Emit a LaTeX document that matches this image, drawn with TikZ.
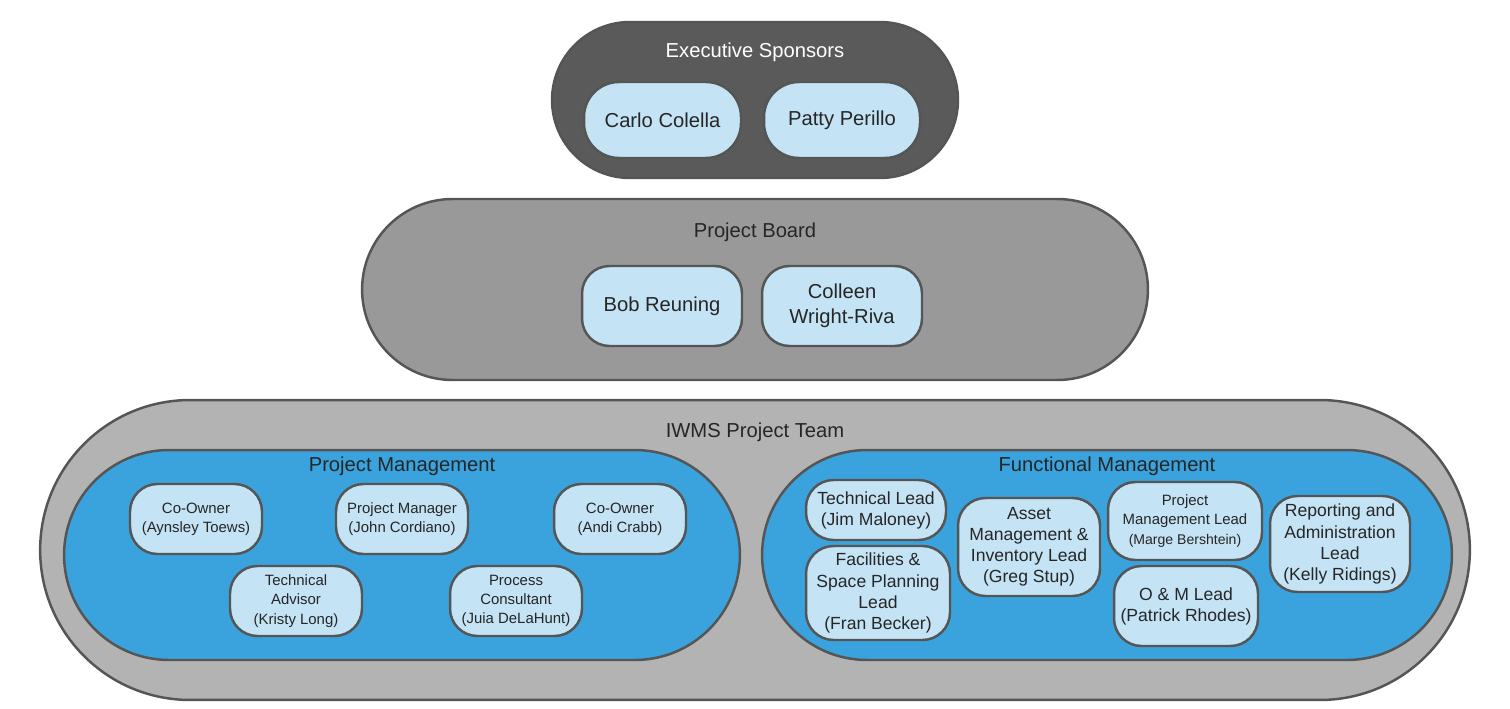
\documentclass[tikz,border=0pt]{standalone}
\usepackage{fontspec}
\setmainfont{Liberation Sans}
\definecolor{execgray}{HTML}{5A5A5A}
\definecolor{boardgray}{HTML}{999999}
\definecolor{teamgray}{HTML}{B3B3B3}
\definecolor{teamblue}{HTML}{3AA3DD}
\definecolor{person}{HTML}{C4E3F5}
\definecolor{edge}{HTML}{555555}
\tikzset{
  group/.style = {draw=edge, line width=1.4pt, rounded corners=#1},
  member/.style = {draw=edge, line width=1.4pt, fill=person, rounded corners=0.55cm,
    align=center, text=black!85, inner sep=1pt},
  title/.style = {font=\fontsize{11.5}{13}\selectfont, text=black!85},
}
\begin{document}
\begin{tikzpicture}[x=0.02cm, y=-0.02cm]
\useasboundingbox (0,0) rectangle (1510,709);

% groups
\node[group=1.56cm, fill=execgray, minimum width=8.12cm, minimum height=3.12cm] (exec) at (755,100) {};
\node[group=1.81cm, fill=boardgray, minimum width=15.72cm, minimum height=3.62cm] (board) at (755,289.5) {};
\node[group=3cm, fill=teamgray, minimum width=28.6cm, minimum height=6cm] (team) at (755,550) {};
\node[group=2.1cm, fill=teamblue, minimum width=13.52cm, minimum height=4.2cm] (pm) at (402,555) {};
\node[group=2.1cm, fill=teamblue, minimum width=13.8cm, minimum height=4.2cm] (fm) at (1107,555) {};

% titles
\node[title, text=white] (execT) at (755,52) {Executive Sponsors};
\node[title] (boardT) at (755,232) {Project Board};
\node[title] (teamT) at (755,432) {IWMS Project Team};
\node[title] (pmT) at (402,466) {Project Management};
\node[title] (fmT) at (1107,466) {Functional Management};

% sponsors and board
\begin{scope}[every node/.append style={font=\fontsize{11.5}{14}\selectfont}]
\node[member, minimum width=3.14cm, minimum height=1.52cm, rounded corners=0.7cm] (carlo) at (662.5,120) {Carlo Colella};
\node[member, minimum width=3.12cm, minimum height=1.52cm, rounded corners=0.7cm] (patty) at (842,120) {Patty Perillo};
\node[member, minimum width=3.2cm, minimum height=1.6cm] (bob) at (662,306) {Bob Reuning};
\node[member, minimum width=3.2cm, minimum height=1.6cm] (colleen) at (842,306) {Colleen\\Wright-Riva};
\end{scope}

% project management
\begin{scope}[every node/.append style={font=\fontsize{8.5}{11}\selectfont, minimum width=2.64cm, minimum height=1.4cm}]
\node[member] (owner1) at (196,519) {Co-Owner\\(Aynsley Toews)};
\node[member] (manager) at (402,519) {Project Manager\\(John Cordiano)};
\node[member] (owner2) at (620,519) {Co-Owner\\(Andi Crabb)};
\node[member] (advisor) at (296,601) {Technical\\Advisor\\(Kristy Long)};
\node[member] (consult) at (516,601) {Process\\Consultant\\(Juia DeLaHunt)};
\end{scope}

% functional management
\begin{scope}[every node/.append style={font=\fontsize{10}{12}\selectfont}]
\node[member, minimum width=2.8cm, minimum height=1.2cm] (tech) at (876,510) {Technical Lead\\(Jim Maloney)};
\node[member, minimum width=2.88cm, minimum height=1.88cm] (facil) at (878,593) {Facilities \&\\Space Planning\\Lead\\(Fran Becker)};
\node[member, minimum width=2.84cm, minimum height=1.96cm] (asset) at (1029,547) {Asset\\Management \&\\Inventory Lead\\(Greg Stup)};
\node[member, minimum width=3.08cm, minimum height=1.56cm, font=\fontsize{8.5}{11}\selectfont] (pml) at (1185,521) {Project\\Management Lead\\{\fontsize{8}{10}\selectfont(Marge Bershtein)}};
\node[member, minimum width=2.88cm, minimum height=1.6cm] (om) at (1186,606) {O \& M Lead\\(Patrick Rhodes)};
\node[member, minimum width=2.8cm, minimum height=1.92cm] (report) at (1340,544) {Reporting and\\Administration\\Lead\\(Kelly Ridings)};
\end{scope}

\end{tikzpicture}
\end{document}
